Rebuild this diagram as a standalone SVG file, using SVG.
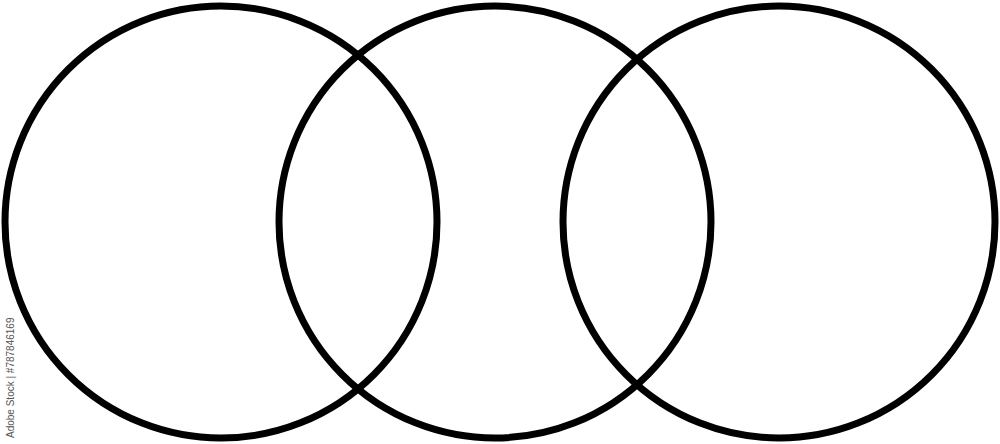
<svg xmlns="http://www.w3.org/2000/svg" width="1000" height="444" viewBox="0 0 1000 444">
<style>
.c{fill:none;stroke:#000;stroke-width:7}
.wm{font-family:"Liberation Sans",Arial,sans-serif;font-size:10px;fill:#555}
</style>
<rect width="1000" height="444" fill="#fff"/>
<g id="circle-left"><circle class="c" cx="221" cy="222" r="216"/></g>
<g id="circle-middle"><circle class="c" cx="495" cy="222" r="216"/></g>
<g id="circle-right"><circle class="c" cx="779" cy="222" r="216"/></g>
<g id="connectors"></g>
<text class="wm" transform="translate(14,438) rotate(-90)" text-anchor="start">Adobe Stock | #787846169</text>
</svg>
